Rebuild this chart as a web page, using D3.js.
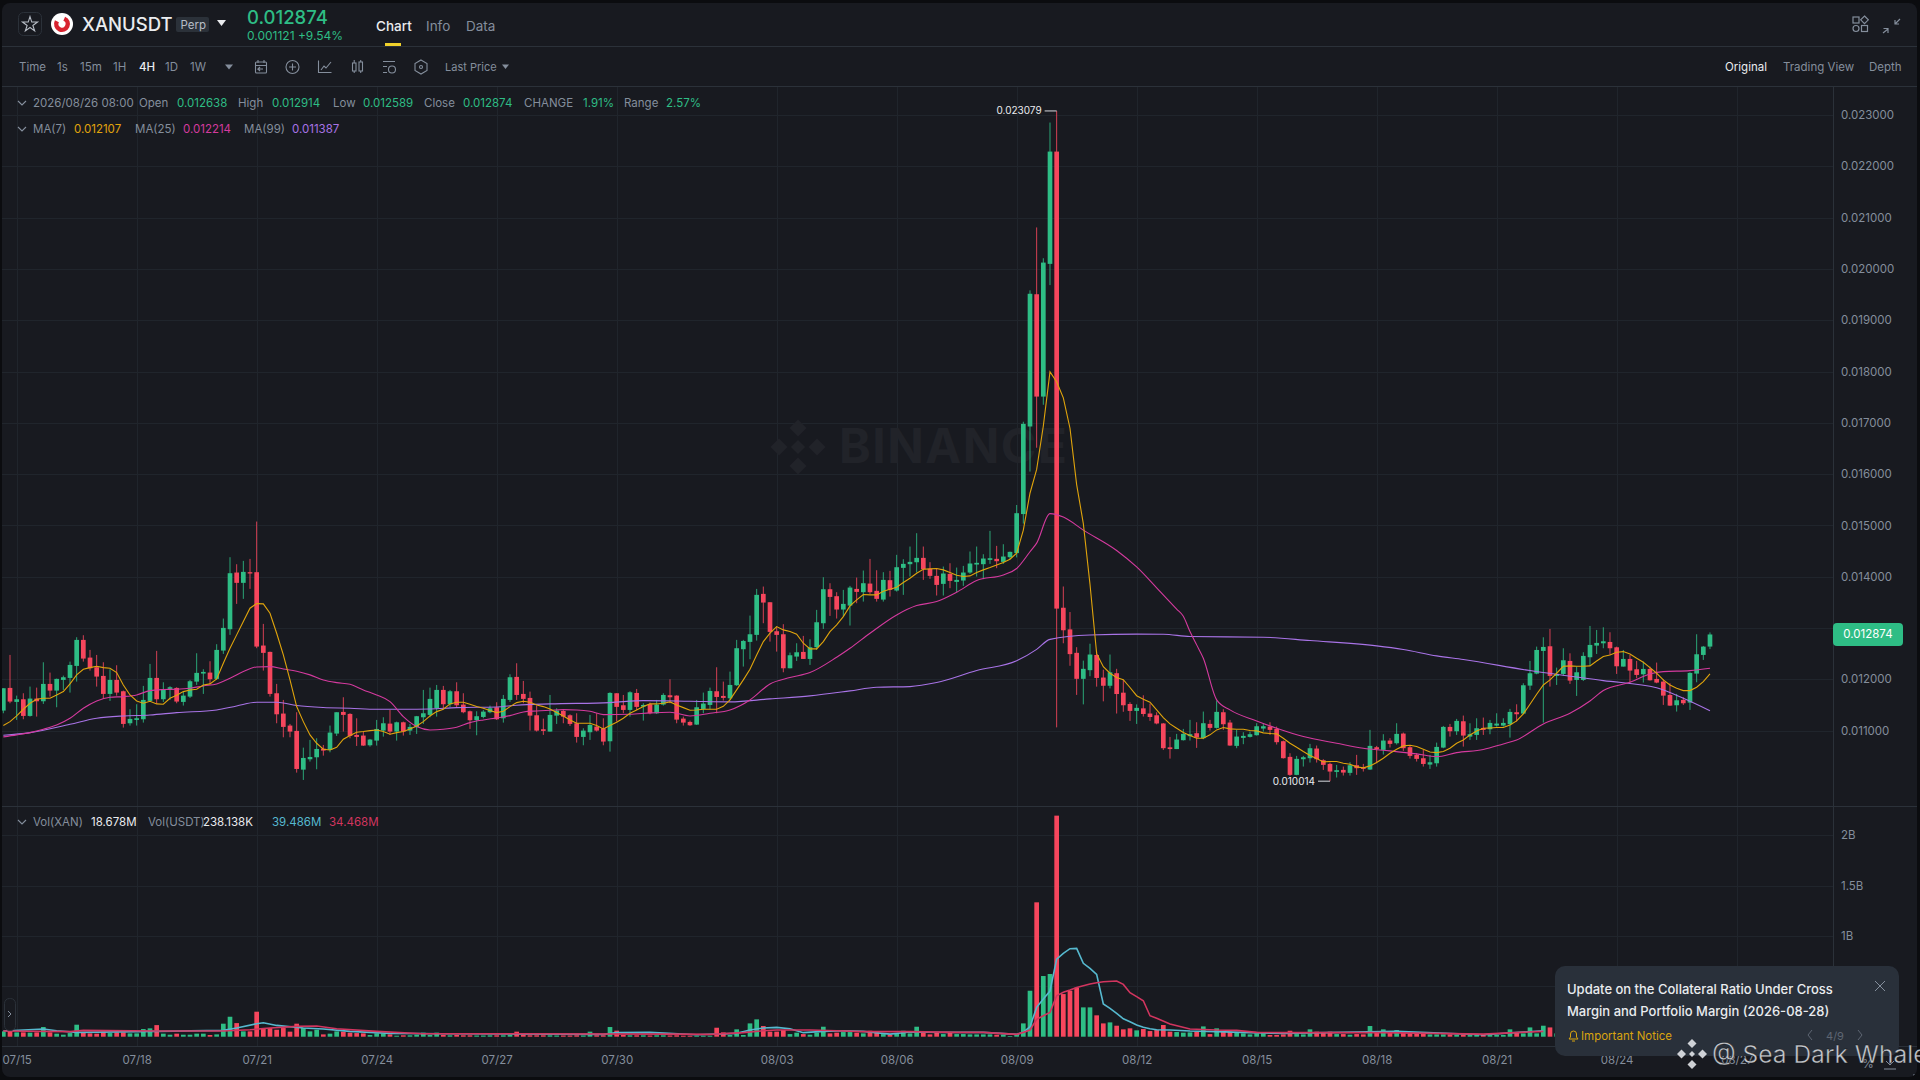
<!DOCTYPE html>
<html><head><meta charset="utf-8">
<script src="https://cdnjs.cloudflare.com/ajax/libs/d3/7.8.5/d3.min.js"></script>
<style>html,body{margin:0;padding:0;background:#0b0c0f;overflow:hidden}svg{display:block}text{font-family:Inter,"Noto Sans",sans-serif}</style>
</head><body><div id="c"></div>
<script>
// prices are in millionths of USDT; the first candle is index -2
const firstIndex = -2;
const candleOpen = [
11390,11832,11559,11611,11286,11624,11572,11910,11780,11988,
12027,12261,12768,12423,12235,12066,11715,11988,11767,11143,
11208,11221,11579,12027,11611,11813,11832,11559,11663,11955,
12112,12131,12008,12560,12976,14081,13880,14088,14088,12658,
12534,11728,11332,11098,10994,10239,10441,10480,10649,10623,
10942,11364,11325,10916,10903,10714,10805,11000,11136,10981,
11162,11000,11065,11260,11306,11436,11793,11514,11767,11507,
11377,11202,11266,11358,11455,11240,11598,12047,11715,11637,
11299,11026,10981,11292,11384,11299,11143,10877,10968,11078,
11045,10792,11728,11494,11403,11734,11468,11514,11338,11507,
11689,11682,11234,11169,11117,11422,11500,11767,11676,11630,
11884,12586,12729,12866,13665,13502,12937,12878,12215,12443,
12534,12397,12625,13093,13756,13620,13360,13437,13762,13698,
13866,13724,13554,13932,13730,14172,14244,14282,14367,14153,
14016,13860,14055,13899,13925,14081,14237,14244,14328,14348,
14289,14380,14460,15221,16928,19506,17511,20098,22287,13395,
12973,12516,12009,12178,12474,12034,11874,12119,11739,11519,
11384,11434,11333,11299,11139,10674,10640,10813,10891,10949,
10852,11131,11053,11358,11157,10702,10858,10878,10910,11040,
11079,11034,10793,10488,10137,10442,10462,10650,10423,10351,
10195,10234,10176,10325,10280,10241,10676,10624,10806,10754,
10942,10676,10527,10461,10338,10363,10669,11072,10987,11182,
10883,10916,11052,11026,11098,11098,11124,11358,11332,11877,
12111,12553,12644,12066,12105,12358,11988,11988,12430,12657,
12702,12728,12624,12248,12397,12196,12098,12202,12007,11955,
11695,11494,11598,11546,12111,12475,12638];
const candleClose = [
11826,11566,11611,11286,11624,11572,11910,11780,12008,12040,
12280,12768,12404,12215,12053,11715,11988,11741,11130,11228,
11241,11598,12027,11611,11806,11845,11566,11682,11962,12125,
12144,12001,12573,13002,14068,13880,14094,14062,12638,12515,
11715,11318,11072,10981,10252,10467,10486,10642,10610,10961,
11358,11306,10896,10877,10708,10825,11032,11143,10981,11162,
10981,11072,11280,11338,11618,11793,11514,11767,11494,11358,
11202,11280,11370,11436,11221,11618,12040,11695,11618,11292,
11000,10994,11306,11390,11273,11130,10877,11000,11110,11000,
10786,11734,11462,11403,11747,11462,11500,11338,11507,11695,
11650,11214,11156,11104,11455,11526,11773,11656,11637,11890,
12606,12748,12878,13646,13496,12924,12866,12215,12469,12527,
12397,12625,13112,13756,13606,13360,13470,13788,13704,13873,
13698,13568,13938,13743,14185,14250,14289,14367,14146,14016,
13840,14062,13918,13938,14081,14257,14270,14354,14360,14302,
14393,14484,15238,16979,19515,17511,20123,22287,13378,12956,
12491,12009,12204,12483,12026,11874,12136,11713,11494,11384,
11443,11324,11265,11139,10657,10640,10826,10936,10930,10865,
11144,11053,11365,11124,10709,10884,10897,10930,11085,11085,
11014,10774,10462,10137,10449,10481,10657,10442,10332,10202,
10228,10182,10325,10267,10254,10702,10637,10806,10741,10936,
10657,10507,10449,10350,10383,10682,11072,10987,11189,10903,
10929,11046,11013,11150,11137,11150,11364,11319,11884,12118,
12572,12631,12066,12105,12371,11975,12137,12456,12670,12709,
12741,12605,12254,12397,12170,12085,12202,11981,11936,11682,
11487,11591,11533,12124,12488,12637,12874];
const candleHigh = [
11826,12475,11682,11728,11858,11838,12332,12131,12014,12072,
12345,12820,12859,12573,12475,12332,12196,12274,11780,11416,
11514,11871,12300,12554,11942,11865,11845,11760,11988,12508,
12196,12352,12684,13184,14380,14243,14308,14347,15075,13080,
12540,11910,11598,11130,11358,10668,10818,10850,10720,11098,
11358,11650,11338,11240,10981,10838,11208,11260,11403,11175,
11175,11130,11286,11793,11838,11890,11871,11793,11942,11728,
11390,11377,11403,11488,11553,11695,12098,12313,11968,11760,
11488,11234,11695,11436,11403,11318,11338,11045,11306,11338,
11240,11747,11728,11695,11767,11812,11533,11546,11598,11728,
12001,11689,11273,11195,11598,11741,11838,12235,11955,12150,
12768,12768,13242,13762,13808,13502,13028,13074,12521,12703,
12846,12781,13353,13990,13873,13698,13743,13821,13983,14120,
14347,14126,14088,14114,14426,14341,14588,14848,14588,14283,
14166,14198,14263,14178,14211,14491,14588,14438,14893,14601,
14633,14490,15398,17021,19582,20808,20208,22853,23079,13809,
13311,12626,12364,12694,12542,12187,12483,12204,11992,11553,
11511,11688,11527,11358,11147,10877,10936,11033,11209,11163,
11371,11209,11586,11417,11209,11014,10968,10981,11144,11144,
11163,11079,10806,10559,10507,10507,10741,10709,10442,10377,
10332,10299,10384,10527,10351,11014,10702,10930,10852,11144,
10962,10702,10559,10623,10526,10766,11091,11130,11228,11293,
11143,11240,11254,11208,11338,11241,11423,11513,11923,12358,
12637,12819,12982,12228,12605,12507,12248,12527,13040,12962,
13014,12917,12637,12572,12475,12358,12345,12248,12326,12001,
11923,11715,11650,12137,12878,12650,12914];
const candleLow = [
11338,11533,11208,11221,11273,11273,11520,11663,11455,11793,
11741,11955,12345,12170,11858,11618,11579,11682,11059,11098,
11098,11156,11566,11520,11559,11598,11533,11488,11637,11890,
11715,11910,11988,12495,12866,13470,13568,13763,12606,12170,
11663,11143,10870,10870,10181,10038,10396,10246,10512,10577,
10896,10981,10850,10701,10701,10688,10708,10883,10916,10805,
10903,10916,10935,11130,11260,11273,11436,11455,11455,11338,
11033,10909,11240,11338,11208,11156,11559,11598,11533,11000,
10981,10916,10981,11130,11143,11091,10766,10714,10818,10981,
10714,10590,11175,11338,11273,11403,11195,11318,11325,11488,
11533,11143,11098,11091,11110,11338,11416,11338,11585,11598,
11871,12248,12391,12755,13093,12735,12540,12137,12215,12358,
12397,12280,12573,12982,13236,13184,13223,13048,13483,13515,
13665,13515,13515,13613,13710,13646,14003,14081,13938,13958,
13633,13633,13776,13698,13821,14055,14003,13951,14250,14166,
14250,14341,14376,15035,16049,16514,17351,19684,11063,12702,
12263,11696,11511,12060,11857,11570,11823,11333,11367,11189,
11130,11274,11189,11122,10623,10454,10640,10806,10806,10663,
10832,11001,11040,11014,10702,10657,10735,10865,10904,10981,
10917,10728,10455,10117,10130,10299,10377,10377,10234,10014,
10085,10124,10124,10137,10202,10234,10364,10533,10670,10728,
10605,10455,10397,10299,10253,10298,10656,10883,10916,10688,
10818,10818,10916,10929,11078,11078,10864,11176,11319,11793,
12098,11156,11858,11890,12066,11910,11676,11968,12267,12494,
12605,12475,12105,12248,11942,12020,11936,11975,11923,11501,
11481,11371,11501,11403,11942,12378,12589];
// volume in millions
const volumeValues = [
53,69,43,43,40,43,96,43,30,20,
36,119,40,33,30,50,36,43,43,33,
33,76,83,115,30,20,30,20,20,30,
30,17,23,129,198,135,53,53,248,83,
86,69,86,50,129,86,53,69,23,30,
53,50,40,36,33,17,33,30,23,10,
14,14,20,40,17,40,17,14,17,14,
14,12,12,14,14,14,17,50,20,14,
14,14,14,12,12,12,14,12,50,14,
14,96,60,17,14,14,14,12,14,14,
12,14,10,10,10,10,10,89,43,17,
73,17,132,172,106,50,50,66,26,40,
26,20,40,99,33,40,46,46,40,33,
59,40,26,20,33,59,33,99,46,23,
40,26,46,26,26,23,23,23,23,20,
20,7,26,132,456,1333,602,622,2193,423,
456,486,291,291,212,132,142,109,73,83,
63,76,56,66,116,50,46,40,43,50,
102,26,83,50,50,46,33,23,33,33,
17,17,23,59,26,23,73,50,43,50,
26,26,20,26,23,106,40,73,40,66,
50,40,40,33,23,23,23,23,20,20,
23,23,17,17,17,17,73,40,33,92,
33,109,92,33,60,50,45,70,60,40,
35,40,45,40,35,35,30,30,35,40,
30,25,25,90,60,35,19];
const ma7Values = [
11098,11175,11286,11416,11533,11611,11630,11630,11695,11760,
11910,12086,12196,12228,12255,12228,12215,12131,11890,11695,
11579,11533,11572,11520,11514,11630,11689,11760,11793,11806,
11890,11910,12008,12313,12606,12866,13126,13386,13476,13470,
13288,12898,12475,11988,11468,11175,10916,10753,10636,10623,
10675,10831,10903,10968,10981,11000,11013,10981,10929,10961,
10981,11033,11091,11175,11286,11370,11416,11520,11553,11553,
11514,11468,11436,11390,11351,11377,11468,11546,11572,11553,
11500,11468,11422,11351,11286,11208,11143,11143,11143,11098,
11033,11098,11162,11240,11338,11403,11468,11520,11520,11533,
11559,11500,11448,11396,11403,11416,11416,11416,11474,11598,
11793,11988,12196,12475,12735,12898,13028,12963,12930,12878,
12703,12593,12593,12735,12930,13060,13223,13431,13548,13652,
13645,13645,13717,13756,13795,13886,13970,14068,14146,14153,
14159,14133,14081,14029,14003,14016,14081,14133,14178,14230,
14276,14341,14460,14908,15627,16091,16937,17993,17799,17486,
16894,15796,15035,13852,12500,12246,12119,12034,11992,11840,
11680,11612,11553,11404,11254,11131,11046,10962,10904,10852,
10852,10917,11014,11060,11034,11027,11027,11001,10995,10956,
10943,10936,10852,10754,10676,10592,10514,10455,10390,10397,
10397,10364,10345,10293,10273,10312,10377,10462,10559,10637,
10702,10715,10689,10636,10584,10571,10591,10656,10753,10818,
10916,10994,11046,11052,11059,11059,11111,11189,11325,11513,
11708,11890,11988,12118,12254,12261,12254,12254,12261,12358,
12443,12475,12527,12540,12494,12410,12332,12228,12118,11988,
11890,11825,11780,11780,11845,11955,12107];
const ma25Index = [-2,0,2,4,6,8,10,12,14,16,18,20,22,24,26,28,30,32,34,36,38,40,42,44,46,48,50,52,54,56,58,60,62,64,66,68,70,72,74,76,78,80,82,84,86,88,92,95,98,101,104,107,110,113,116,119,123,125,128,132,135,138,141,144,148,150,152,153,155,157,160,165,168,171,174,175,176,177,178,180,182,186,189,193,198,202,206,210,213,216,220,223,225,229,233,236,238,242,245,247,251,254];
const ma25Values = [10877,10916,10961,11026,11110,11240,11436,11578,11650,11663,11695,11780,11800,11806,11826,11871,11910,12020,12150,12241,12248,12202,12157,12086,11988,11936,11903,11793,11695,11565,11273,11078,11013,11026,11065,11156,11208,11247,11292,11364,11383,11396,11409,11403,11377,11312,11318,11345,11358,11286,11338,11403,11598,11910,12034,12131,12430,12605,12898,13255,13437,13515,13697,13925,14035,14160,14486,14655,15229,15162,14908,14511,14190,13784,13370,13230,12931,12671,12411,11599,11404,11189,11046,10884,10754,10657,10605,10546,10493,10571,10630,10740,10818,11130,11338,11578,11780,11942,12105,12150,12170,12214];
const ma99Index = [-2,2,8,12,16,20,24,30,33,36,39,42,46,50,54,58,62,66,72,75,80,89,94,101,107,113,119,125,129,134,138,144,150,153,155,161,168,172,176,187,194,204,208,213,217,227,238,246,250,254];
const ma99Values = [10909,10961,11123,11240,11286,11305,11351,11403,11481,11552,11552,11488,11449,11436,11416,11416,11422,11448,11461,11494,11520,11546,11585,11572,11559,11618,11676,11774,11845,11858,11936,12170,12360,12584,12778,12863,12880,12879,12833,12820,12755,12651,12580,12456,12385,12170,11975,11835,11630,11387];
const volFastIndex = [-2,4,6,9,21,31,33,36,37,39,43,46,50,56,64,88,90,95,102,108,110,112,114,116,118,121,124,127,131,134,139,145,150,151,152,153,154,155,156,157,158,159,160,161,162,163,164,165,166,167,168,169,170,171,173,176,180,185,190,207,220,229];
const volFastValues = [56,76,59,43,53,63,86,129,139,112,86,76,53,33,30,23,40,43,20,33,66,86,92,79,40,53,59,53,26,46,43,43,23,43,99,291,374,453,770,827,873,876,728,678,618,324,281,231,178,149,116,93,79,69,66,56,50,40,33,53,20,59];
const volSlowIndex = [-2,8,10,21,31,35,38,42,45,48,54,61,99,104,109,112,114,119,123,127,134,141,145,150,151,152,153,154,155,156,157,158,159,160,161,162,163,165,166,167,168,169,170,171,173,176,180,183,186,190,205,220,229];
const volSlowValues = [56,50,63,56,56,69,86,102,106,79,53,30,26,23,40,59,66,66,59,50,50,43,43,23,43,66,172,208,241,406,440,463,489,506,522,535,545,552,519,436,397,357,208,182,126,76,66,63,43,40,40,26,53];
const priceTicks = [11000,12000,13000,14000,15000,16000,17000,18000,19000,20000,21000,22000,23000];
const volTicks = [500,1000,1500,2000];
const volTickLabels = ["500M","1B","1.5B","2B"];
const dateTickIndex = [0,18,36,54,72,90,114,132,150,168,186,204,222,240,258];
const dateTickLabels = ["07/15","07/18","07/21","07/24","07/27","07/30","08/03","08/06","08/09","08/12","08/15","08/18","08/21","08/24","08/27"];

const GREEN="#2EBD85",RED="#F6465D",GRID="#20252C",LINE="#2B3139",MUTED="#848E9C",WHITE="#EAECEF",GOLD="#E0A40C",PINK="#D43A9E",PURPLE="#A873E6",CYAN="#56B9CF",VRED="#D2355F";

const svg=d3.select("#c").append("svg").attr("width",1920).attr("height",1080).attr("viewBox","0 0 1920 1080");
const defs=svg.append("defs");
defs.append("clipPath").attr("id","card").append("rect").attr("x",2).attr("y",3).attr("width",1915).attr("height",1074).attr("rx",8);
svg.append("rect").attr("width",1920).attr("height",1080).attr("fill","#0b0c0f");
const root=svg.append("g").attr("clip-path","url(#card)");
root.append("rect").attr("width",1920).attr("height",1080).attr("fill","#181A20");

const x=d3.scaleLinear().domain([0,254]).range([16.67,1709.98]);
const y=d3.scaleLinear().domain([11000,23000]).range([730.6,115]);
const yv=d3.scaleLinear().domain([0,2000]).range([1036.7,835.1]);
const rows=candleOpen.map((o,k)=>({i:k+firstIndex,o,c:candleClose[k],h:candleHigh[k],l:candleLow[k],v:volumeValues[k],up:candleClose[k]>=o,ma:ma7Values[k]}));
const T=(g,px,py,s,o={})=>g.append("text").attr("x",px).attr("y",py).text(s).attr("font-size",o.size||12).attr("fill",o.fill||MUTED).attr("font-weight",o.w||400).attr("text-anchor",o.a||"start").attr("letter-spacing",o.ls||null);

// grids
const grid=root.append("g").attr("stroke",GRID).attr("stroke-width",1);
grid.selectAll(".h").data(priceTicks).join("line").attr("x1",2).attr("x2",1833).attr("y1",d=>Math.round(y(d))+.5).attr("y2",d=>Math.round(y(d))+.5);
grid.selectAll(".vh").data(volTicks).join("line").attr("x1",2).attr("x2",1833).attr("y1",d=>Math.round(yv(d))+.5).attr("y2",d=>Math.round(yv(d))+.5);
grid.selectAll(".v").data(dateTickIndex).join("line").attr("x1",d=>Math.round(x(d))+.5).attr("x2",d=>Math.round(x(d))+.5).attr("y1",86).attr("y2",1046);

// watermark
const wm=root.append("g");
T(wm,839,463,"BINANCE",{size:48,w:700,fill:"#212329",ls:"1.5px"});
const wmD=wm.append("g").attr("transform","translate(798,447)").attr("fill","#212329");
[[0,-19],[-19,0],[19,0],[0,19]].forEach(p=>wmD.append("rect").attr("x",p[0]-6).attr("y",p[1]-6).attr("width",12).attr("height",12).attr("transform",`rotate(45 ${p[0]} ${p[1]})`));
wmD.append("rect").attr("x",-5).attr("y",-5).attr("width",10).attr("height",10).attr("transform","rotate(45)");

// candles
const cg=root.append("g");
cg.selectAll(".w").data(rows).join("line").attr("x1",d=>x(d.i)).attr("x2",d=>x(d.i)).attr("y1",d=>y(d.h)).attr("y2",d=>y(d.l)).attr("stroke",d=>d.up?GREEN:RED).attr("stroke-width",1).attr("stroke-opacity",.85);
cg.selectAll(".b").data(rows).join("rect").attr("x",d=>x(d.i)-2.33).attr("width",4.67).attr("y",d=>y(Math.max(d.o,d.c))).attr("height",d=>Math.max(1,Math.abs(y(d.o)-y(d.c)))).attr("fill",d=>d.up?GREEN:RED);

// MA lines
const ln=d3.line().x(d=>x(d[0])).y(d=>y(d[1]));
const lnC=d3.line().x(d=>x(d[0])).y(d=>y(d[1])).curve(d3.curveMonotoneX);
root.append("path").attr("d",lnC(d3.zip(ma99Index,ma99Values))).attr("fill","none").attr("stroke",PURPLE).attr("stroke-width",1.1);
root.append("path").attr("d",lnC(d3.zip(ma25Index,ma25Values))).attr("fill","none").attr("stroke",PINK).attr("stroke-width",1.1);
root.append("path").attr("d",ln(rows.map(d=>[d.i,d.ma]))).attr("fill","none").attr("stroke",GOLD).attr("stroke-width",1.1);

// high / low labels
const hiRow=rows[d3.greatestIndex(rows,d=>d.h)],loRow=rows[d3.leastIndex(rows,d=>d.l)];
const ann=root.append("g");
ann.append("line").attr("x1",x(hiRow.i)-12).attr("x2",x(hiRow.i)).attr("y1",y(hiRow.h)).attr("y2",y(hiRow.h)).attr("stroke","#D8DADF");
T(ann,x(hiRow.i)-15,y(hiRow.h)+3.5,(hiRow.h/1e6).toFixed(6),{size:10,fill:"#EAECEF",a:"end"});
ann.append("line").attr("x1",x(loRow.i)-12).attr("x2",x(loRow.i)).attr("y1",y(loRow.l)).attr("y2",y(loRow.l)).attr("stroke","#D8DADF");
T(ann,x(loRow.i)-15,y(loRow.l)+3.5,(loRow.l/1e6).toFixed(6),{size:10,fill:"#EAECEF",a:"end"});

// pane rules
const rules=root.append("g").attr("stroke",LINE).attr("stroke-width",1);
[[46.5],[86.5],[806.5],[1046.5]].forEach(a=>rules.append("line").attr("x1",0).attr("x2",1920).attr("y1",a[0]).attr("y2",a[0]));
rules.append("line").attr("x1",1833.5).attr("x2",1833.5).attr("y1",86).attr("y2",1046);

// volume
const vg=root.append("g");
vg.selectAll("rect").data(rows).join("rect").attr("x",d=>x(d.i)-2.33).attr("width",4.67).attr("y",d=>yv(d.v)).attr("height",d=>yv(0)-yv(d.v)).attr("fill",d=>d.up?GREEN:RED);
const lv=d3.line().x(d=>x(d[0])).y(d=>yv(d[1]));
root.append("path").attr("d",lv(d3.zip(volFastIndex,volFastValues))).attr("fill","none").attr("stroke",CYAN).attr("stroke-width",1.6);
root.append("path").attr("d",lv(d3.zip(volSlowIndex,volSlowValues))).attr("fill","none").attr("stroke",VRED).attr("stroke-width",1.6);

// axes
const styleAxis=g=>{g.select(".domain").remove();g.selectAll(".tick line").remove();g.selectAll(".tick text").attr("fill",MUTED).attr("font-size",11.5).attr("font-family","Inter");};
root.append("g").attr("transform","translate(1841,0)").call(d3.axisRight(y).tickValues(priceTicks).tickSize(0).tickPadding(0).tickFormat(d=>(d/1e6).toFixed(6))).call(styleAxis);
root.append("g").attr("transform","translate(1841,0)").call(d3.axisRight(yv).tickValues(volTicks).tickSize(0).tickPadding(0).tickFormat((d,k)=>volTickLabels[k])).call(styleAxis);
root.append("g").attr("transform","translate(0,1056)").call(d3.axisBottom(x).tickValues(dateTickIndex).tickSize(0).tickPadding(0).tickFormat((d,k)=>dateTickLabels[k])).call(styleAxis);

// price tag
const lastRow=rows[rows.length-1];
root.append("rect").attr("x",1833).attr("y",y(lastRow.c)-11.5).attr("width",70).attr("height",23).attr("rx",4).attr("fill",GREEN);
T(root,1868,y(lastRow.c)+4,(lastRow.c/1e6).toFixed(6),{fill:"#fff",a:"middle",size:11.5});

// header
const h=root.append("g");
h.append("rect").attr("x",18.5).attr("y",12.5).attr("width",23).attr("height",23).attr("rx",5).attr("fill","none").attr("stroke",LINE);
h.append("path").attr("d",d3.symbol(d3.symbolStar,70)()).attr("transform","translate(30,24.5)").attr("fill","none").attr("stroke","#B7BDC6").attr("stroke-width",1.1);
h.append("circle").attr("cx",62).attr("cy",24).attr("r",11).attr("fill","#fff");
h.append("path").attr("d",d3.arc()({innerRadius:3.5,outerRadius:8,startAngle:0.4,endAngle:5.2})).attr("transform","translate(62,24)").attr("fill","#D8232F");
T(h,82,31,"XANUSDT",{size:18.5,fill:WHITE,w:500});
h.append("rect").attr("x",176).attr("y",17).attr("width",33).attr("height",15).attr("rx",2).attr("fill","#2B3139");
T(h,180.5,28.5,"Perp",{size:11.5,fill:"#B7BDC6"});
h.append("path").attr("d","M217 20h9l-4.5 6z").attr("fill",WHITE);
T(h,247,24,"0.012874",{size:18.5,fill:GREEN,w:500});
T(h,247,39.5,"0.001121 +9.54%",{size:12,fill:GREEN});
T(h,376,31,"Chart",{size:13.5,fill:WHITE,w:500});
T(h,426,31,"Info",{size:13.5});
T(h,466,31,"Data",{size:13.5});
h.append("rect").attr("x",385).attr("y",43).attr("width",16).attr("height",3).attr("fill","#F0D12B");
// top-right icons
const tr=h.append("g").attr("fill","none").attr("stroke","#848E9C").attr("stroke-width",1.2);
tr.append("rect").attr("x",1853).attr("y",17).attr("width",6).attr("height",6);
tr.append("path").attr("d","M1864.5 16l3.8 3.8-3.8 3.8-3.8-3.8z");
tr.append("circle").attr("cx",1856).attr("cy",28.5).attr("r",3);
tr.append("rect").attr("x",1861.5).attr("y",25.5).attr("width",6).attr("height",6);
tr.append("path").attr("d","M1888 29l-5 4M1883.5 28.5h4.5v4.5M1895 24l5-5M1895 20v4h4");

// toolbar
const tb=root.append("g");
[["Time",19],["1s",57],["15m",80],["1H",113],["1D",165],["1W",190]].forEach(a=>T(tb,a[1],71,a[0],{size:11.5}));
T(tb,139,71,"4H",{size:11.5,fill:WHITE,w:500});
tb.append("path").attr("d","M225 64.5h8l-4 5z").attr("fill",MUTED);
const ic=tb.append("g").attr("fill","none").attr("stroke","#848E9C").attr("stroke-width",1.1);
ic.append("rect").attr("x",255.5).attr("y",62).attr("width",11).attr("height",11).attr("rx",1);ic.append("path").attr("d","M255.5 65.5h11M258 60v3M264 60v3M263 69h-5l2-2M258 69l2 2");
ic.append("circle").attr("cx",292.5).attr("cy",67).attr("r",6.5);ic.append("path").attr("d","M292.5 63.5v7M289 67h7");
ic.append("path").attr("d","M318.5 60.5v12h13M321 70l3-4 2 2 5-6");
ic.append("rect").attr("x",352.5).attr("y",63).attr("width",3.5).attr("height",8);ic.append("rect").attr("x",359).attr("y",62).attr("width",3.5).attr("height",9);ic.append("path").attr("d","M354.2 60v3M354.2 71v2M360.7 60v2M360.7 71v2");
ic.append("path").attr("d","M383 61.5h12M383 66.5h4M383 72.5h4");ic.append("circle").attr("cx",392).attr("cy",69.5).attr("r",3.5);
ic.append("path").attr("d","M421 60l6 3.5v7l-6 3.5-6-3.5v-7z");ic.append("circle").attr("cx",421).attr("cy",67).attr("r",1.5);
T(tb,445,71,"Last Price",{size:11});
tb.append("path").attr("d","M502 64.5h7l-3.5 4.5z").attr("fill",MUTED);
T(tb,1725,71,"Original",{size:11.5,fill:WHITE});
T(tb,1783,71,"Trading View",{size:11.5});
T(tb,1869,71,"Depth",{size:11.5});

// legend
const lg=root.append("g");
const chevron=(cy)=>lg.append("path").attr("d",`M18 ${cy-2}l4 4 4-4`).attr("fill","none").attr("stroke",MUTED).attr("stroke-width",1.1);
chevron(103);chevron(129);chevron(822);
[["2026/08/26 08:00",33,MUTED],["Open",139,MUTED],["0.012638",177,GREEN],["High",238,MUTED],["0.012914",272,GREEN],["Low",333,MUTED],["0.012589",363,GREEN],["Close",424,MUTED],["0.012874",463,GREEN],["CHANGE",524,MUTED],["1.91%",583,GREEN],["Range",624,MUTED],["2.57%",666,GREEN]].forEach(a=>T(lg,a[1],107,a[0],{size:11.5,fill:a[2]}));
[["MA(7)",33,MUTED],["0.012107",74,GOLD],["MA(25)",135,MUTED],["0.012214",183,PINK],["MA(99)",244,MUTED],["0.011387",292,PURPLE]].forEach(a=>T(lg,a[1],133,a[0],{size:11.5,fill:a[2]}));
[["Vol(XAN)",33,MUTED],["18.678M",91,WHITE],["Vol(USDT)",148,MUTED],["238.138K",203,WHITE],["39.486M",272,CYAN],["34.468M",329,VRED]].forEach(a=>T(lg,a[1],826,a[0],{size:11.5,fill:a[2]}));

// handle
root.append("rect").attr("x",4.5).attr("y",998.5).attr("width",11).attr("height",32).attr("rx",5).attr("fill","#181A20").attr("stroke",LINE);
root.append("path").attr("d","M8 1011l3 3-3 3").attr("fill","none").attr("stroke",MUTED);

// notice
const nt=root.append("g");
nt.append("rect").attr("x",1555).attr("y",966).attr("width",344).attr("height",90).attr("rx",10).attr("fill","#29303A");
T(nt,1567,994,"Update on the Collateral Ratio Under Cross",{size:13,fill:WHITE,w:500});
T(nt,1567,1016,"Margin and Portfolio Margin (2026-08-28)",{size:13,fill:WHITE,w:500});
nt.append("path").attr("d","M1569 1039h9l-1.5-2v-3a3 3 0 0 0-6 0v3zM1572 1041h3").attr("fill","none").attr("stroke","#D9A40F");
T(nt,1581,1040,"Important Notice",{size:11.5,fill:"#D9A40F"});
T(nt,1835,1040,"4/9",{size:11,fill:"#5E6673",a:"middle"});
nt.append("path").attr("d","M1812 1030l-4 5 4 5M1858 1030l4 5-4 5").attr("fill","none").attr("stroke","#5E6673");
nt.append("path").attr("d","M1875 981l10 10M1885 981l-10 10").attr("fill","none").attr("stroke","#848E9C");
T(root,1862,1068,"%",{size:12});
root.append("path").attr("d","M1890 1056v9M1886 1061l4 4 4-4M1884 1069h12").attr("fill","none").attr("stroke",MUTED);
root.append("path").attr("d","M1913 1075h5v-5").attr("fill","none").attr("stroke",MUTED);

// overlay mark
const wmk=svg.append("g").attr("opacity",.9);
const dm=wmk.append("g").attr("transform","translate(1692,1054)").attr("fill","#E2E4E8");
[[0,-10.5],[-10.5,0],[10.5,0],[0,10.5]].forEach(p=>dm.append("path").attr("d",`M${p[0]} ${p[1]-4.5}l4.5 4.5-4.5 4.5-4.5-4.5z`));
dm.append("path").attr("d","M0 -3l3 3-3 3-3-3z");
T(wmk,1712,1063,"@ Sea Dark Whale",{size:24.5,fill:"#D5D8DC"}).attr("stroke","#111318").attr("stroke-width",.4);
</script></body></html>
